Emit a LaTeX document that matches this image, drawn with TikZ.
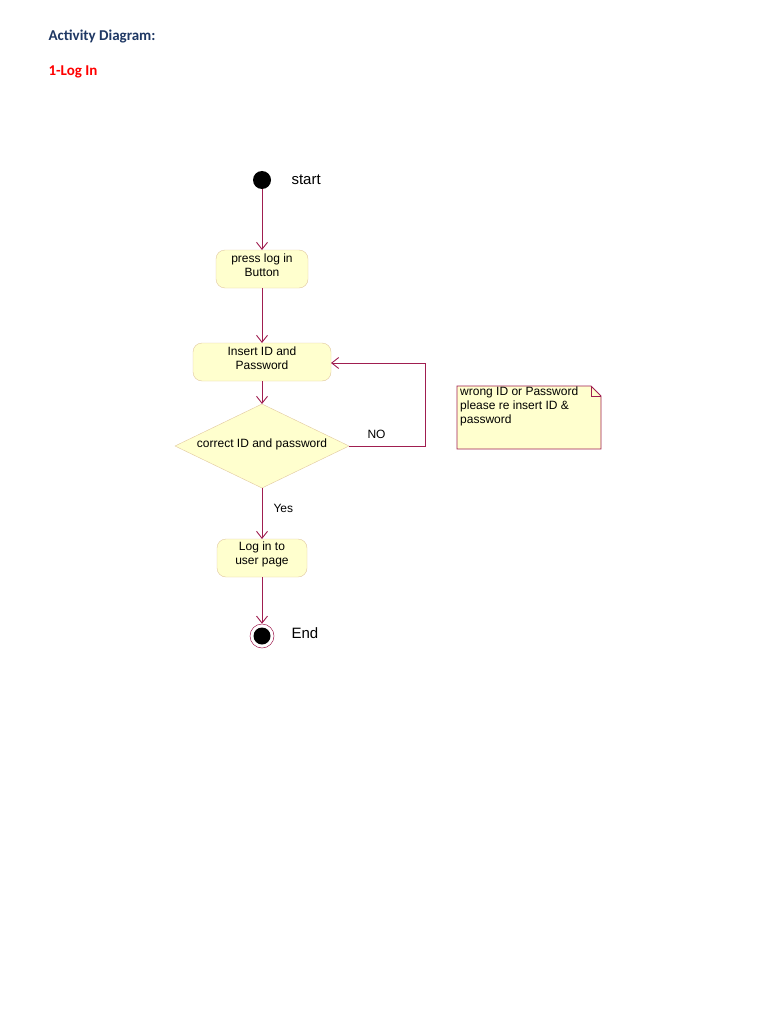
\documentclass[tikz,border=0pt]{standalone}
\usepackage{fontspec}
\setmainfont{Liberation Sans}
\newfontfamily\titlefont{Carlito}
\usetikzlibrary{shapes.geometric,arrows.meta}
\definecolor{lnc}{RGB}{160,30,80}
\definecolor{fillc}{RGB}{255,255,206}
\definecolor{bordc}{RGB}{225,200,160}
\definecolor{navy}{RGB}{31,56,100}
\tikzset{
  actbox/.style={draw=bordc,fill=fillc,rounded corners=9pt,align=center,font=\fontsize{12}{14}\selectfont},
  flow/.style={draw=lnc,line width=0.9pt,-{Straight Barb[length=7pt,width=11pt]}},
  lbl/.style={font=\fontsize{12}{14}\selectfont,anchor=west},
}
\begin{document}
\begin{tikzpicture}[x=1pt,y=-1pt]
\useasboundingbox (0,0) rectangle (768,1024);
\fill[white] (0,0) rectangle (768,1024);
\node[anchor=west,text=navy,font=\titlefont\bfseries\fontsize{15}{18}\selectfont] (t1) at (45,37) {Activity Diagram:};
\node[anchor=west,text=red,font=\titlefont\bfseries\fontsize{15}{18}\selectfont] (t2) at (45,72) {1-Log In};
% start
\node[circle,fill=black,minimum size=18pt,inner sep=0] (st) at (262,180) {};
\node[anchor=west,font=\fontsize{15}{18}\selectfont] (stl) at (288,180) {start};
% boxes
\draw[actbox] (216,250) rectangle (308,288);
\node[font=\fontsize{12}{14}\selectfont,align=center] (b1) at (262,265) {press log in\\Button};
\coordinate (b1t) at (262,250); \coordinate (b1b) at (262,288);
\draw[actbox] (193,343) rectangle (331,381);
\node[font=\fontsize{12}{14}\selectfont,align=center] (b2) at (262,358) {Insert ID and\\Password};
\coordinate (b2t) at (262,343); \coordinate (b2b) at (262,381); \coordinate (b2r) at (331,363);
% diamond
\draw[draw=bordc,fill=fillc] (175,446) -- (262,404) -- (349,446) -- (262,488) -- cycle;
\node[font=\fontsize{12}{14}\selectfont] (d) at (262,444) {correct ID and password};
\coordinate (dt) at (262,404); \coordinate (db) at (262,488); \coordinate (dr) at (349,446);
\coordinate (c1) at (425,446); \coordinate (c2) at (425,363);
\node[lbl] (no) at (364,434) {NO};
% note
\draw[lnc,fill=fillc,line width=0.8pt] (457,386) -- (591,386) -- (601,396) -- (601,449) -- (457,449) -- cycle;
\draw[lnc,line width=0.8pt] (591,386) -- (591,396) -- (601,396);
\node[anchor=north west,align=left,font=\fontsize{12}{14}\selectfont,inner sep=0] (note) at (460,387) {wrong ID or Password\\please re insert ID \&\\password};
% box3
\draw[actbox] (217,539) rectangle (307,577);
\node[font=\fontsize{12}{14}\selectfont,align=center] (b3) at (262,554) {Log in to\\user page};
\coordinate (b3t) at (262,539); \coordinate (b3b) at (262,577);
\node[lbl] (yes) at (270,508) {Yes};
% end
\node[circle,draw=lnc,fill=white,line width=0.5pt,minimum size=24pt,inner sep=0] (en) at (262,636) {};
\node[circle,fill=black,minimum size=17pt,inner sep=0] at (262,636) {};
\node[anchor=west,font=\fontsize{15}{18}\selectfont] (enl) at (288,633) {End};
% flows
\draw[flow] (st) -- (b1t);
\draw[flow] (b1b) -- (b2t);
\draw[flow] (b2b) -- (dt);
\draw[flow] (dr) -- (c1) -- (c2) -- (b2r);
\draw[flow] (db) -- (b3t);
\draw[flow] (b3b) -- (en);
\end{tikzpicture}
\end{document}
